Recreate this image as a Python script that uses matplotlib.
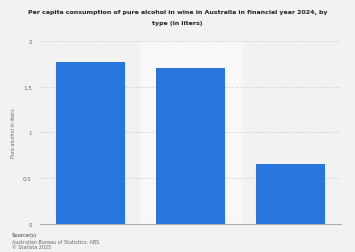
import matplotlib.pyplot as plt

categories = ['Red wine', 'White wine', 'Other wine']
values = [1.77, 1.70, 0.65]
yticks = [0, 0.5, 1, 1.5, 2]
ytick_labels = ['0', '0.5', '1', '1.5', '2']

bg = '#f2f2f2'
bar_color = '#2876dd'

fig = plt.figure(figsize=(3.55, 2.53), dpi=100)
fig.patch.set_facecolor(bg)
ax = fig.add_axes([40 / 355, 1 - 225 / 253, 301 / 355, (225 - 41.7) / 253])
ax.set_facecolor(bg)

x = list(range(len(categories)))
# hover highlight on the middle column
ax.axvspan(0.5, 1.5, color='#f8f8f8', zorder=0)
ax.bar(x, values, width=0.69, color=bar_color, zorder=3)

ax.set_xlim(-0.5, len(categories) - 0.5)
ax.set_ylim(0, 2)
ax.set_xticks(x)
ax.set_xticklabels([])
ax.tick_params(axis='x', length=0)
ax.set_yticks(yticks)
ax.set_yticklabels(ytick_labels, fontsize=4, color='#666666')
ax.tick_params(axis='y', length=0, pad=6)
ax.grid(axis='y', color='#d8d8d8', linestyle=(0, (4, 2)), linewidth=0.6, zorder=1)
for s in ['top', 'right', 'left']:
    ax.spines[s].set_visible(False)
ax.spines['bottom'].set_color('#aaaaaa')
ax.spines['bottom'].set_linewidth(0.8)
ax.set_ylabel('Pure alcohol in liters', fontsize=3.5, color='#666666', labelpad=5)

fig.text(0.5, 1 - 12.5 / 253, 'Per capita consumption of pure alcohol in wine in Australia in financial year 2024, by',
         ha='center', va='center', fontsize=4.5, fontweight='bold', color='#222222')
fig.text(0.5, 1 - 23.5 / 253, 'type (in liters)', ha='center', va='center',
         fontsize=4.5, fontweight='bold', color='#222222')

fig.text(12 / 355, 1 - 235.5 / 253, 'Source(s)', fontsize=3.8, color='#333333', va='center')
fig.text(12 / 355, 1 - 242 / 253, 'Australian Bureau of Statistics; ABS', fontsize=3.5, color='#666666', va='center')
fig.text(12 / 355, 1 - 247.5 / 253, '© Statista 2025', fontsize=3.5, color='#666666', va='center')

fig.savefig('out.png', dpi=100, facecolor=bg)
